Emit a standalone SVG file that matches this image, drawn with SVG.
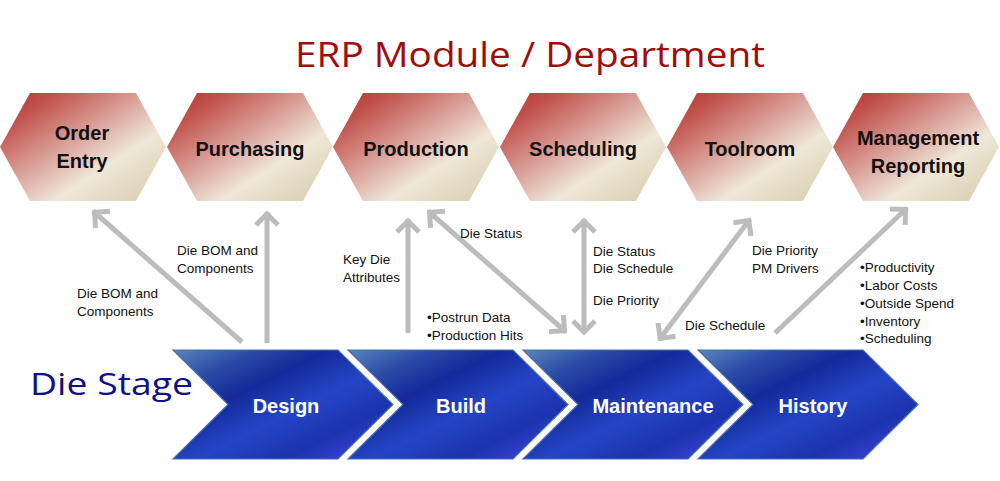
<svg xmlns="http://www.w3.org/2000/svg" width="1000" height="481" viewBox="0 0 1000 481">
<defs>
<linearGradient id="hexg" x1="0" y1="0" x2="1" y2="1">
<stop offset="0" stop-color="#b2302a"/>
<stop offset="0.18" stop-color="#c2544e"/>
<stop offset="0.45" stop-color="#dba59d"/>
<stop offset="0.66" stop-color="#efe7d8"/>
<stop offset="0.82" stop-color="#e3d9c1"/>
<stop offset="1" stop-color="#d6cbad"/>
</linearGradient>
<linearGradient id="chg" x1="0" y1="0" x2="1" y2="1">
<stop offset="0" stop-color="#5a86bc"/>
<stop offset="0.18" stop-color="#2c4ca8"/>
<stop offset="0.35" stop-color="#14299a"/>
<stop offset="0.55" stop-color="#2545c6"/>
<stop offset="0.75" stop-color="#1b33ae"/>
<stop offset="0.9" stop-color="#3a40d2"/>
<stop offset="1" stop-color="#7a3ad8"/>
</linearGradient>
<marker id="ah" markerUnits="userSpaceOnUse" markerWidth="40" markerHeight="40" viewBox="-20 -20 40 40" refX="0" refY="0" orient="auto-start-reverse" overflow="visible">
<path d="M-13,-11 L-2,0 L-13,11" fill="none" stroke="#bcbcbc" stroke-width="5" stroke-linejoin="miter"/>
</marker>
<style>
.hex{fill:url(#hexg);}
.hl{font-family:"Liberation Sans",Arial,sans-serif;font-weight:bold;font-size:20px;fill:#111;text-anchor:middle;}
.ch{fill:url(#chg);stroke:#4a6ea8;stroke-width:1.2;}
.cl{font-family:"Liberation Sans",Arial,sans-serif;font-weight:bold;font-size:20px;fill:#fff;text-anchor:middle;}
.sm{font-family:"Liberation Sans",Arial,sans-serif;font-size:13.5px;fill:#111;}
.ar{stroke:#bcbcbc;stroke-width:5;fill:none;}
</style>
</defs>
<rect width="1000" height="481" fill="#fff"/>
<text x="295" y="67" font-family="'Open Sans','Liberation Sans',sans-serif" font-size="35" fill="#a00c0c" textLength="470" lengthAdjust="spacingAndGlyphs">ERP Module / Department</text>
<text x="30" y="395" font-family="'Open Sans','Liberation Sans',sans-serif" font-size="31" fill="#10108a" textLength="163" lengthAdjust="spacingAndGlyphs">Die Stage</text>

<g id="hex-order-entry">
<path class="hex" d="M0,147 L30,93 H136 L166,147 L136,201 H30 Z"/>
<text class="hl" x="82" y="140">Order</text>
<text class="hl" x="82" y="168">Entry</text>
</g>
<g id="hex-purchasing">
<path class="hex" d="M167,147 L197,93 H303 L333,147 L303,201 H197 Z"/>
<text class="hl" x="250" y="156">Purchasing</text>
</g>
<g id="hex-production">
<path class="hex" d="M333,147 L363,93 H469 L499,147 L469,201 H363 Z"/>
<text class="hl" x="416" y="156">Production</text>
</g>
<g id="hex-scheduling">
<path class="hex" d="M500,147 L530,93 H636 L666,147 L636,201 H530 Z"/>
<text class="hl" x="583" y="156">Scheduling</text>
</g>
<g id="hex-toolroom">
<path class="hex" d="M667,147 L697,93 H803 L833,147 L803,201 H697 Z"/>
<text class="hl" x="750" y="156">Toolroom</text>
</g>
<g id="hex-management-reporting">
<path class="hex" d="M833,147 L863,93 H969 L999,147 L969,201 H863 Z"/>
<text class="hl" x="918" y="145">Management</text>
<text class="hl" x="918" y="173">Reporting</text>
</g>

<g id="stage-design">
<path class="ch" d="M173,350 H338 L393,404.5 L338,459 H173 L228,404.5 Z"/>
<text class="cl" x="286" y="413">Design</text>
</g>
<g id="stage-build">
<path class="ch" d="M348,350 H513 L568,404.5 L513,459 H348 L403,404.5 Z"/>
<text class="cl" x="461" y="413">Build</text>
</g>
<g id="stage-maintenance">
<path class="ch" d="M523,350 H688 L743,404.5 L688,459 H523 L578,404.5 Z"/>
<text class="cl" x="653" y="413">Maintenance</text>
</g>
<g id="stage-history">
<path class="ch" d="M698,350 H863 L918,404.5 L863,459 H698 L753,404.5 Z"/>
<text class="cl" x="813" y="413">History</text>
</g>

<g id="connectors">
<line class="ar" x1="242" y1="342" x2="93" y2="211" marker-end="url(#ah)"/>
<line class="ar" x1="267" y1="343" x2="267" y2="212" marker-end="url(#ah)"/>
<line class="ar" x1="408" y1="333" x2="408" y2="219" marker-end="url(#ah)"/>
<line class="ar" x1="428" y1="211" x2="566" y2="332" marker-start="url(#ah)" marker-end="url(#ah)"/>
<line class="ar" x1="584" y1="219" x2="584" y2="334" marker-start="url(#ah)" marker-end="url(#ah)"/>
<line class="ar" x1="659" y1="340" x2="750" y2="219" marker-start="url(#ah)" marker-end="url(#ah)"/>
<line class="ar" x1="775" y1="333" x2="907" y2="208" marker-end="url(#ah)"/>
</g>

<g id="labels">
<text class="sm" x="77" y="298">Die BOM and</text>
<text class="sm" x="77" y="316">Components</text>
<text class="sm" x="177" y="255">Die BOM and</text>
<text class="sm" x="177" y="273">Components</text>
<text class="sm" x="343" y="264">Key Die</text>
<text class="sm" x="343" y="282">Attributes</text>
<text class="sm" x="460" y="238">Die Status</text>
<text class="sm" x="593" y="256">Die Status</text>
<text class="sm" x="593" y="273">Die Schedule</text>
<text class="sm" x="593" y="305">Die Priority</text>
<text class="sm" x="427" y="322">•Postrun Data</text>
<text class="sm" x="427" y="340">•Production Hits</text>
<text class="sm" x="752" y="255">Die Priority</text>
<text class="sm" x="752" y="273">PM Drivers</text>
<text class="sm" x="685" y="330">Die Schedule</text>
<text class="sm" x="860" y="272">•Productivity</text>
<text class="sm" x="860" y="290">•Labor Costs</text>
<text class="sm" x="860" y="308">•Outside Spend</text>
<text class="sm" x="860" y="326">•Inventory</text>
<text class="sm" x="860" y="343">•Scheduling</text>
</g>
</svg>
